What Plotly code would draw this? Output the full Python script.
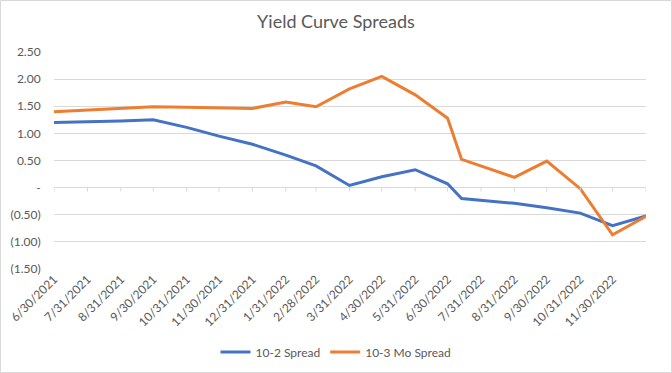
import plotly.graph_objects as go

# ---- data ----
dates = ["2021-06-30", "2021-07-31", "2021-08-31", "2021-09-30", "2021-10-31",
         "2021-11-30", "2021-12-31", "2022-01-31", "2022-02-28", "2022-03-31",
         "2022-04-30", "2022-05-31", "2022-06-30", "2022-07-13", "2022-07-31",
         "2022-08-31", "2022-09-30", "2022-10-31", "2022-11-30", "2022-12-31"]
spread_10_2 = [1.20, 1.21, 1.23, 1.25, 1.11, 0.95, 0.80, 0.60, 0.40, 0.04,
               0.20, 0.33, 0.07, -0.20, -0.23, -0.29, -0.37, -0.47, -0.70, -0.52]
spread_10_3m = [1.40, 1.43, 1.46, 1.49, 1.48, 1.47, 1.46, 1.58, 1.49, 1.82,
                2.05, 1.71, 1.28, 0.52, 0.40, 0.19, 0.49, -0.02, -0.87, -0.53]

tick_dates = ["2021-06-30", "2021-07-31", "2021-08-31", "2021-09-30", "2021-10-31",
              "2021-11-30", "2021-12-31", "2022-01-31", "2022-02-28", "2022-03-31",
              "2022-04-30", "2022-05-31", "2022-06-30", "2022-07-31", "2022-08-31",
              "2022-09-30", "2022-10-31", "2022-11-30", "2022-12-31"]
tick_labels = ["6/30/2021", "7/31/2021", "8/31/2021", "9/30/2021", "10/31/2021",
               "11/30/2021", "12/31/2021", "1/31/2022", "2/28/2022", "3/31/2022",
               "4/30/2022", "5/31/2022", "6/30/2022", "7/31/2022", "8/31/2022",
               "9/30/2022", "10/31/2022", "11/30/2022", ""]
y_ticks = [2.5, 2.0, 1.5, 1.0, 0.5, 0.0, -0.5, -1.0, -1.5]
y_labels = ["2.50", "2.00", "1.50", "1.00", "0.50", "-", "(0.50)", "(1.00)", "(1.50)"]

W, H = 672, 373
ml, mr, mt, mb = 54, 26, 52, 104
y_range = [-1.5, 2.5]

FONT = "Lato, Carlito, Calibri, sans-serif"
TXT = "#595959"
GRID = "#D9D9D9"

fig = go.Figure()
fig.add_trace(go.Scatter(x=dates, y=spread_10_2, mode="lines", name="10-2 Spread",
                         line=dict(color="#4472C4", width=3)))
fig.add_trace(go.Scatter(x=dates, y=spread_10_3m, mode="lines", name="10-3 Mo Spread",
                         line=dict(color="#ED7D31", width=3)))

fig.update_layout(
    template="none",
    width=W, height=H,
    margin=dict(l=ml, r=mr, t=mt, b=mb, autoexpand=False),
    paper_bgcolor="white", plot_bgcolor="white",
    font=dict(family=FONT, color=TXT, size=12),
    title=dict(text="Yield Curve Spreads", x=0.5, xref="container", xanchor="center",
               y=1 - 22 / H, yref="container", yanchor="middle",
               font=dict(size=18, color=TXT, family=FONT)),
    xaxis=dict(type="date", range=[tick_dates[0], tick_dates[-1]],
               tickmode="array", tickvals=tick_dates, ticktext=tick_labels,
               tickangle=-45, showgrid=False, zeroline=False, showline=False,
               ticks="", tickfont=dict(size=12, color=TXT), automargin=False),
    yaxis=dict(range=y_range, tickmode="array", tickvals=y_ticks, ticktext=y_labels,
               showgrid=True, gridcolor=GRID, gridwidth=1,
               zeroline=True, zerolinecolor=GRID, zerolinewidth=1, showline=False,
               ticks="outside", ticklen=10, tickcolor="rgba(0,0,0,0)",
               tickfont=dict(size=12, color=TXT), automargin=False),
    legend=dict(orientation="h", x=0.5, xref="container", xanchor="center",
                y=1 - 352 / H, yref="container", yanchor="middle",
                font=dict(size=12, color=TXT), itemwidth=30, tracegroupgap=0),
    showlegend=True,
)

# small tick marks on the horizontal axis where it crosses y = 0
tick_len = 4 * (y_range[1] - y_range[0]) / (H - mt - mb)
for d in tick_dates:
    fig.add_shape(type="line", xref="x", yref="y", x0=d, x1=d, y0=0, y1=-tick_len,
                  line=dict(color=GRID, width=1), layer="above")

# chart border
pw = W - ml - mr
ph = H - mt - mb
fig.add_shape(type="rect", xref="paper", yref="paper",
              x0=(0.5 - ml) / pw, x1=(W - 0.5 - ml) / pw,
              y0=-(mb - 0.5) / ph, y1=1 + (mt - 0.5) / ph,
              line=dict(color=GRID, width=1), fillcolor="rgba(0,0,0,0)", layer="above")

fig.write_html("out.html", config={"displayModeBar": False},
               post_script="document.body.style.margin='0';document.body.style.padding='0';")
